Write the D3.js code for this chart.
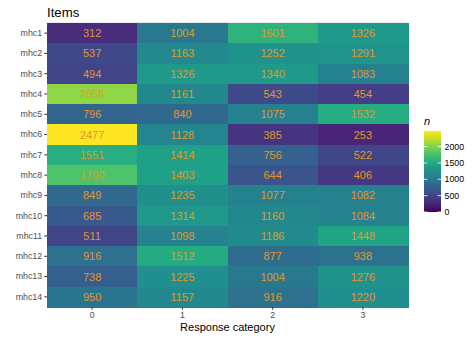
<!DOCTYPE html>
<html>
<head>
<meta charset="utf-8">
<script src="https://cdn.jsdelivr.net/npm/d3@7"></script>
<style>
  body { margin: 0; background: #fff; }
  text { font-family: "Liberation Sans", Arial, sans-serif; }
</style>
</head>
<body>
<svg id="chart" width="474" height="338"></svg>
<script>
// data
const items = ["mhc1", "mhc2", "mhc3", "mhc4", "mhc5", "mhc6", "mhc7",
               "mhc8", "mhc9", "mhc10", "mhc11", "mhc12", "mhc13", "mhc14"]
const categories = ["0", "1", "2", "3"]
const cat0 = [312, 537, 494, 2056, 796, 2477, 1551, 1790, 849, 685, 511, 916, 738, 950]
const cat1 = [1004, 1163, 1326, 1161, 840, 1128, 1414, 1403, 1235, 1314, 1098, 1512, 1225, 1157]
const cat2 = [1601, 1252, 1340, 543, 1075, 385, 756, 644, 1077, 1160, 1186, 877, 1004, 916]
const cat3 = [1326, 1291, 1083, 454, 1532, 253, 522, 406, 1082, 1084, 1448, 938, 1276, 1220]
const legendTicks = [0, 500, 1000, 1500, 2000]

const series = [cat0, cat1, cat2, cat3]
let cells = []
series.forEach((vals, ci) => {
    vals.forEach((v, ri) => cells.push({item: items[ri], cat: categories[ci], n: v}))
})

const svg = d3.select('#chart')
const panel = {left: 47, top: 23, right: 408, bottom: 307}

let x = d3.scaleBand()
          .domain(categories)
          .range([panel.left, panel.right])
let y = d3.scaleBand()
          .domain(items)
          .range([panel.top, panel.bottom])
const maxN = d3.max(cells, d => d.n)
let color = d3.scaleSequential(d3.interpolateViridis)
              .domain([0, maxN])

// panel background (shows as a thin edge)
svg.append('rect')
   .attr('x', panel.left)
   .attr('y', panel.top - 1)
   .attr('width', panel.right - panel.left)
   .attr('height', panel.bottom - panel.top + 1)
   .attr('fill', '#ebebeb')

// tiles
svg.append('g')
   .attr('shape-rendering', 'crispEdges')
   .selectAll('rect')
   .data(cells)
   .enter()
   .append('rect')
   .attr('x', d => x(d.cat))
   .attr('y', d => y(d.item))
   .attr('width', x.bandwidth() + 0.6)
   .attr('height', y.bandwidth() + 0.6)
   .attr('fill', d => color(d.n))

// labels in tiles
svg.append('g')
   .selectAll('text')
   .data(cells)
   .enter()
   .append('text')
   .attr('x', d => x(d.cat) + x.bandwidth() / 2)
   .attr('y', d => y(d.item) + y.bandwidth() / 2)
   .attr('dy', '0.36em')
   .attr('text-anchor', 'middle')
   .attr('font-size', 11)
   .attr('fill', '#e3962a')
   .text(d => d.n)

// axes
let yAxis = svg.append('g')
               .attr('transform', `translate(${panel.left},0)`)
               .call(d3.axisLeft(y).tickSize(2.7).tickPadding(2.2))
let xAxis = svg.append('g')
               .attr('transform', `translate(0,${panel.bottom})`)
               .call(d3.axisBottom(x).tickSize(2.7).tickPadding(2.2))
for (let ax of [xAxis, yAxis]) {
    ax.select('.domain').remove()
    ax.selectAll('line').attr('stroke', '#333').attr('stroke-width', 1)
    ax.selectAll('text')
      .attr('font-size', 8.8)
      .attr('fill', '#4d4d4d')
      .style('font-family', '"Liberation Sans", Arial, sans-serif')
}

// titles
svg.append('text')
   .attr('x', panel.left)
   .attr('y', 17)
   .attr('font-size', 13.2)
   .attr('fill', '#000')
   .text('Items')

svg.append('text')
   .attr('x', (panel.left + panel.right) / 2)
   .attr('y', 331)
   .attr('text-anchor', 'middle')
   .attr('font-size', 11)
   .attr('fill', '#000')
   .text('Response category')

// colour bar legend
const bar = {x: 424, w: 17, top: 131, bottom: 212}
let ly = d3.scaleLinear()
           .domain([0, maxN])
           .range([bar.bottom, bar.top])

const defs = svg.append('defs')
const grad = defs.append('linearGradient')
                 .attr('id', 'vgrad')
                 .attr('x1', 0).attr('x2', 0)
                 .attr('y1', 1).attr('y2', 0)
d3.range(0, 1.0001, 0.05).forEach(t => {
    grad.append('stop')
        .attr('offset', t)
        .attr('stop-color', color(t * maxN))
})

svg.append('rect')
   .attr('x', bar.x)
   .attr('y', bar.top)
   .attr('width', bar.w)
   .attr('height', bar.bottom - bar.top)
   .attr('fill', 'url(#vgrad)')

let lt = svg.append('g')
            .selectAll('g')
            .data(legendTicks)
            .enter()
            .append('g')
            .attr('transform', d => `translate(0,${ly(d)})`)
lt.append('line')
  .attr('x1', bar.x).attr('x2', bar.x + 3.4)
  .attr('stroke', '#fff').attr('stroke-width', 0.8)
lt.append('line')
  .attr('x1', bar.x + bar.w - 3.4).attr('x2', bar.x + bar.w)
  .attr('stroke', '#fff').attr('stroke-width', 0.8)
lt.append('text')
  .attr('x', bar.x + bar.w + 3.5)
  .attr('dy', '0.35em')
  .attr('font-size', 8.8)
  .attr('fill', '#000')
  .text(d => d)

svg.append('text')
   .attr('x', bar.x)
   .attr('y', 125)
   .attr('font-size', 11)
   .attr('font-style', 'italic')
   .text('n')
</script>
</body>
</html>
